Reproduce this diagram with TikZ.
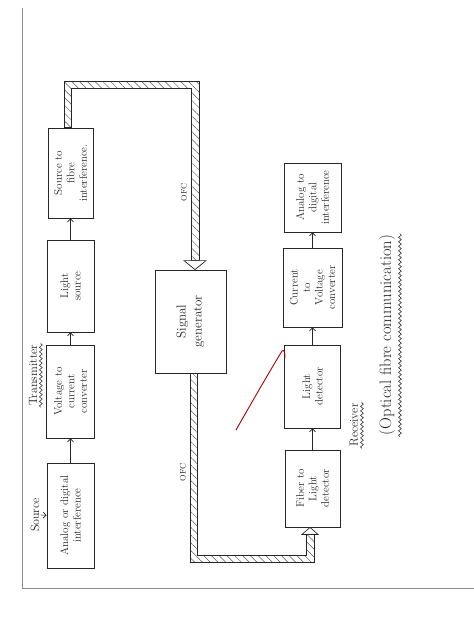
\documentclass[tikz,border=0pt]{standalone}
\usepackage{tikz}
\usetikzlibrary{arrows.meta}
\usetikzlibrary{calc}
\usetikzlibrary{patterns.meta}
\usetikzlibrary{decorations.pathmorphing}

\begin{document}
\begin{tikzpicture}[x=1pt,y=-1pt]
\useasboundingbox (0,0) rectangle (474,632);
% page edge
\draw[black!45, line width=1pt] (22,8) -- (22,588) -- (474,588);
\begin{scope}[every node/.style={draw=black!85,line width=0.8pt,rotate=90,align=center,
                                 inner sep=2pt,text=black!85,font=\fontsize{11}{12.5}\selectfont}]
    % transmitter
    \node[minimum width=105pt, minimum height=47pt] (src) at (70.5,515.5) {Analog or digital\\interference};
    \node[minimum width=93pt, minimum height=48pt] (v2c) at (70.5,391.5) {Voltage to\\current\\converter};
    \node[minimum width=92pt, minimum height=47pt] (lsrc) at (70.5,286) {Light\\source};
    \node[minimum width=90pt, minimum height=45pt] (s2f) at (70.5,173) {Source to\\fibre\\interference.};
    % middle
    \node[minimum width=103pt, minimum height=71pt, font=\fontsize{13}{16}\selectfont] (gen) at (190.5,321.5) {Signal\\generator};
    % receiver
    \node[minimum width=77pt, minimum height=55pt] (f2l) at (312.5,488.5) {Fiber to\\Light\\detector};
    \node[minimum width=83pt, minimum height=56pt] (ldet) at (312.5,386.5) {Light\\detector};
    \node[minimum width=79pt, minimum height=59pt] (c2v) at (312.5,287.5) {Current\\to\\Voltage\\converter};
    \node[minimum width=69pt, minimum height=57pt] (a2d) at (312.5,197.5) {Analog to\\digital\\interference};
\end{scope}
\begin{scope}[every node/.style={rotate=90,inner sep=1.5pt,text=black!85}]
    \node[font=\fontsize{12}{14}\selectfont] (srclbl) at (35,515) {Source};
    \node[font=\fontsize{12}{14}\selectfont] (txlbl) at (33,375) {Transmitter};
    \node[font=\fontsize{12}{14}\selectfont] (rxlbl) at (354,425) {Receiver};
    \node[font=\fontsize{8}{10}\selectfont] (ofc1) at (183,472) {OFC};
    \node[font=\fontsize{8}{10}\selectfont] (ofc2) at (184,192) {OFC};
    \node[font=\fontsize{16.5}{19}\selectfont] (title) at (387,335) {(Optical fibre communication)};
\end{scope}
\begin{scope}[>={Straight Barb[length=3pt,width=6pt]},
              box_edge/.style={draw=black!85,line width=0.7pt},
              wave_line/.style={draw=black!80,line width=0.6pt,decorate,
                                decoration={snake,amplitude=1.4pt,segment length=4.5pt}},
              fibre_cable/.style={draw=black!85,line width=0.7pt,
                                  pattern={Lines[angle=-45,distance=5.5pt,line width=0.5pt]},
                                  pattern color=black!65},
              cable_head/.style={draw=black!85,line width=0.7pt,fill=white}]
    \path [->] (srclbl) edge [box_edge] (src);
    \path [->] (src) edge [box_edge] (v2c);
    \path [->] (v2c) edge [box_edge] (lsrc);
    \path [->] (lsrc) edge [box_edge] (s2f);
    \path [->] (f2l) edge [box_edge] (ldet);
    \path [->] (ldet) edge [box_edge] (c2v);
    \path [->] (c2v) edge [box_edge] (a2d);
    % underlines
    \path [wave_line] ($(txlbl.south west)+(2,0)$) -- ($(txlbl.south east)+(2,0)$);
    \path [wave_line] ($(rxlbl.south west)+(2,0)$) -- ($(rxlbl.south east)+(2,0)$);
    \path [wave_line] ($(title.south west)+(3,0)$) -- ($(title.south east)+(3,0)$);
    % optical fibre cable, transmitter to generator
    \coordinate (ta) at (64,81);
    \coordinate (tb) at (199,81);
    \coordinate (tc) at (71,88);
    \coordinate (td) at (191,88);
    \coordinate (tm) at (195,0);
    \path [fibre_cable] (ta |- s2f.east) -- (ta) -- (tb) -- ($(tb |- gen.east)+(0,-9)$)
        -- ($(td |- gen.east)+(0,-9)$) -- (td) -- (tc) -- (tc |- s2f.east) -- cycle;
    \path [cable_head] ($(tm |- gen.east)+(-11,-9)$) -- ($(tm |- gen.east)+(11,-9)$)
        -- (tm |- gen.east) -- cycle;
    % optical fibre cable, generator to receiver
    \coordinate (ba) at (190,562);
    \coordinate (bb) at (314,562);
    \coordinate (bc) at (197,555);
    \coordinate (bd) at (306,555);
    \coordinate (bm) at (310,0);
    \path [fibre_cable] (ba |- gen.west) -- (ba) -- (bb) -- ($(bb |- f2l.west)+(0,7)$)
        -- ($(bd |- f2l.west)+(0,7)$) -- (bd) -- (bc) -- (bc |- gen.west) -- cycle;
    \path [cable_head] ($(bm |- f2l.west)+(-8,7)$) -- ($(bm |- f2l.west)+(8,7)$)
        -- (bm |- f2l.west) -- cycle;
\end{scope}
% red pen mark
\draw[red!70!black, line width=0.9pt, line cap=round]
    (236,430) .. controls (252,402) and (268,374) .. (282,351)
    .. controls (284,349) and (285,352) .. (285,358);
\end{tikzpicture}
\end{document}
